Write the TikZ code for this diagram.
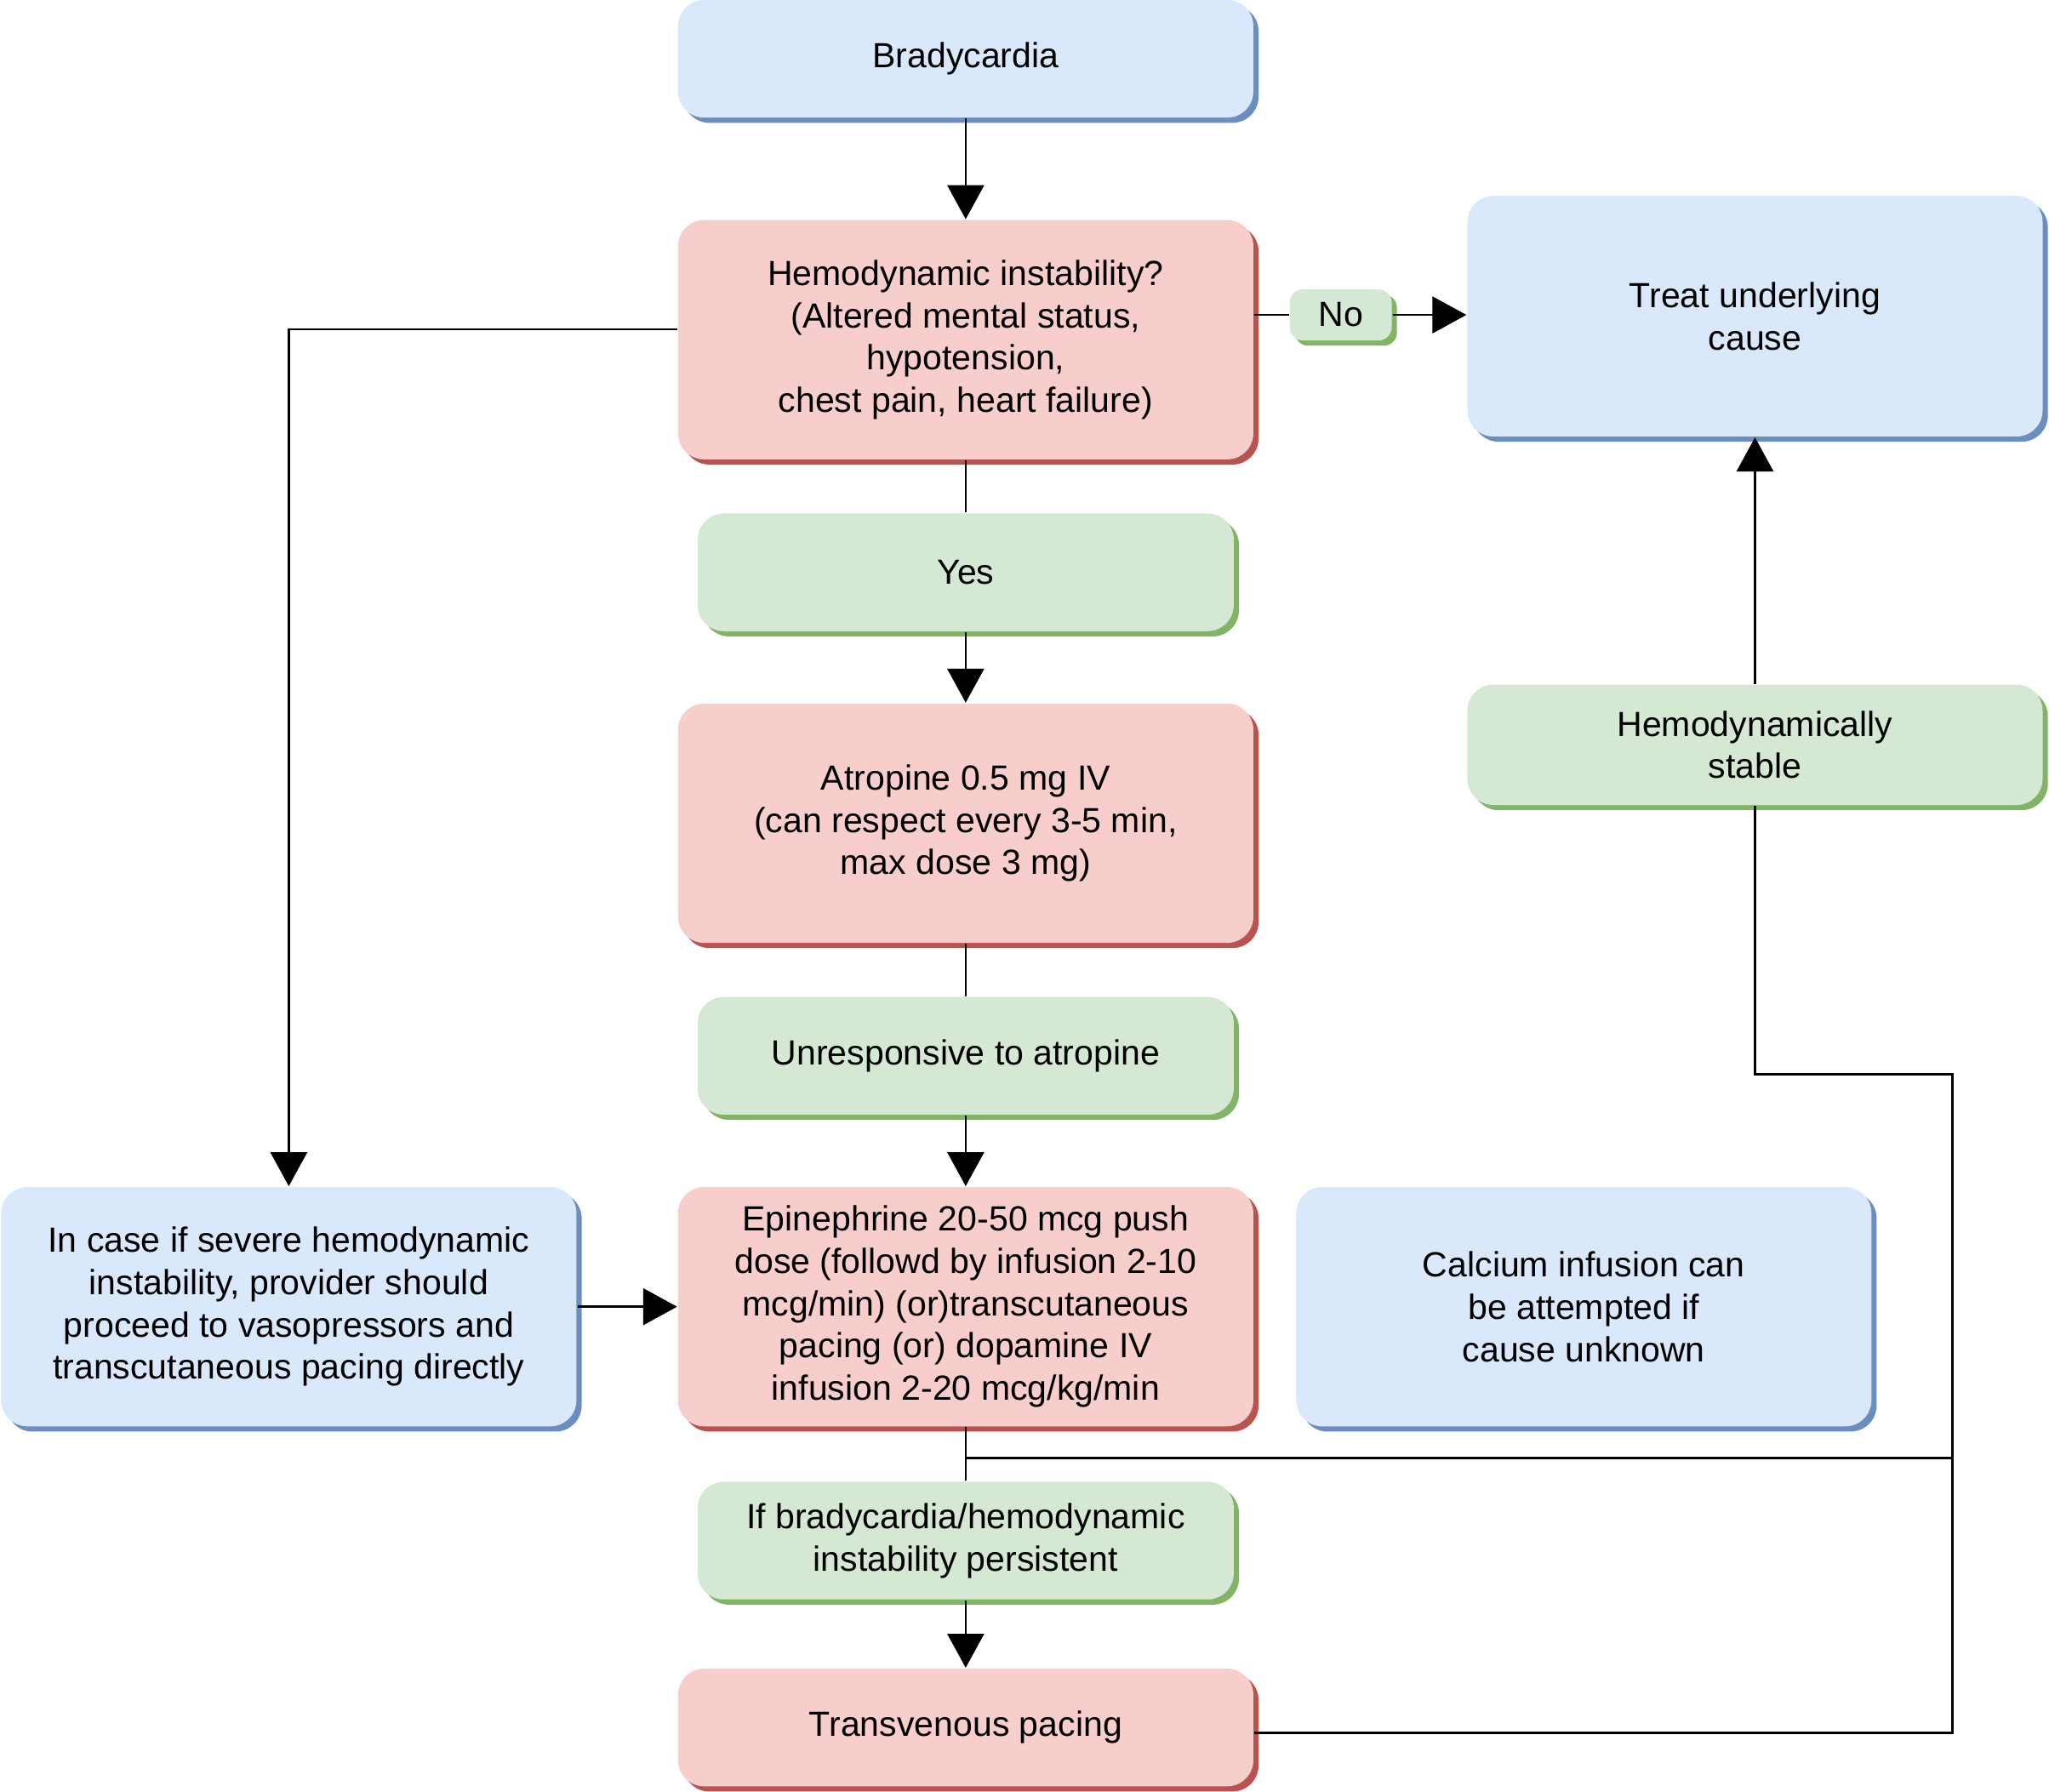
\documentclass[tikz,border=0pt]{standalone}
\usepackage{fontspec}
\setmainfont{Liberation Sans}
\usetikzlibrary{arrows.meta,shadows}
\definecolor{bluefill}{HTML}{DAE8FC}
\definecolor{blueedge}{HTML}{6C8EBF}
\definecolor{redfill}{HTML}{F8CECC}
\definecolor{rededge}{HTML}{B85450}
\definecolor{greenfill}{HTML}{D5E8D4}
\definecolor{greenedge}{HTML}{82B366}
\tikzset{
  box/.style={rounded corners=2mm, align=center, inner sep=0pt,
    font=\fontsize{7.6}{9.2}\selectfont},
  bluebox/.style={box, fill=bluefill, general shadow={fill=blueedge, shadow xshift=0.4mm, shadow yshift=-0.4mm}},
  redbox/.style={box, fill=redfill, general shadow={fill=rededge, shadow xshift=0.4mm, shadow yshift=-0.4mm}},
  greenbox/.style={box, fill=greenfill, general shadow={fill=greenedge, shadow xshift=0.4mm, shadow yshift=-0.4mm}},
  flow/.style={-{Triangle[width=2.8mm,length=2.6mm]}, line width=0.5pt},
  link/.style={line width=0.5pt}
}
\begin{document}
\begin{tikzpicture}[x=0.01cm, y=-0.01cm]
  \useasboundingbox (0,0) rectangle (1568,1371);
  % main column
  \node[bluebox, minimum width=4.4cm, minimum height=0.9cm] (brady) at (739,45) {Bradycardia};
  \node[redbox, minimum width=4.4cm, minimum height=1.83cm] (hemo) at (739,260)
    {Hemodynamic instability?\\(Altered mental status,\\hypotension,\\chest pain, heart failure)};
  \node[greenbox, minimum width=4.1cm, minimum height=0.9cm] (yes) at (739,438) {Yes};
  \node[redbox, minimum width=4.4cm, minimum height=1.83cm] (atro) at (739,630)
    {Atropine 0.5 mg IV\\(can respect every 3-5 min,\\max dose 3 mg)};
  \node[greenbox, minimum width=4.1cm, minimum height=0.9cm] (unresp) at (739,808) {Unresponsive to atropine};
  \node[redbox, minimum width=4.4cm, minimum height=1.83cm] (epi) at (739,1000)
    {Epinephrine 20-50 mcg push\\dose (followd by infusion 2-10\\mcg/min) (or)transcutaneous\\pacing (or) dopamine IV\\infusion 2-20 mcg/kg/min};
  \node[greenbox, minimum width=4.1cm, minimum height=0.9cm] (persist) at (739,1179)
    {If bradycardia/hemodynamic\\instability persistent};
  \node[redbox, minimum width=4.4cm, minimum height=0.9cm] (tvp) at (739,1322) {Transvenous pacing};
  % side boxes
  \node[greenbox, minimum width=0.78cm, minimum height=0.39cm, rounded corners=1mm] (no) at (1026,241) {No};
  \node[bluebox, minimum width=4.4cm, minimum height=1.84cm] (treat) at (1343,242) {Treat underlying\\cause};
  \node[greenbox, minimum width=4.4cm, minimum height=0.92cm] (stable) at (1343,570) {Hemodynamically\\stable};
  \node[bluebox, minimum width=4.4cm, minimum height=1.83cm] (severe) at (221,1000)
    {In case if severe hemodynamic\\instability, provider should\\proceed to vasopressors and\\transcutaneous pacing directly};
  \node[bluebox, minimum width=4.4cm, minimum height=1.83cm] (calc) at (1212,1000)
    {Calcium infusion can\\be attempted if\\cause unknown};
  \coordinate (jr) at (1494,1116);
  % connectors
  \draw[flow] (brady) -- (hemo);
  \draw[link] (hemo) -- (yes);
  \draw[flow] (yes) -- (atro);
  \draw[link] (atro) -- (unresp);
  \draw[flow] (unresp) -- (epi);
  \draw[link] (epi) -- (persist);
  \draw[flow] (persist) -- (tvp);
  \draw[flow] (hemo.west |- 0,252) -| (severe.north);
  \draw[flow] (severe) -- (epi);
  \draw[link] (hemo.east |- no) -- (no);
  \draw[flow] (no) -- (treat.west |- no);
  \draw[flow] (stable) -- (treat);
  \draw[link] (stable.south) |- (1494,822) -- (jr) |- (tvp.east |- 0,1326);
  \draw[link] (epi.south) |- (jr);
\end{tikzpicture}
\end{document}
